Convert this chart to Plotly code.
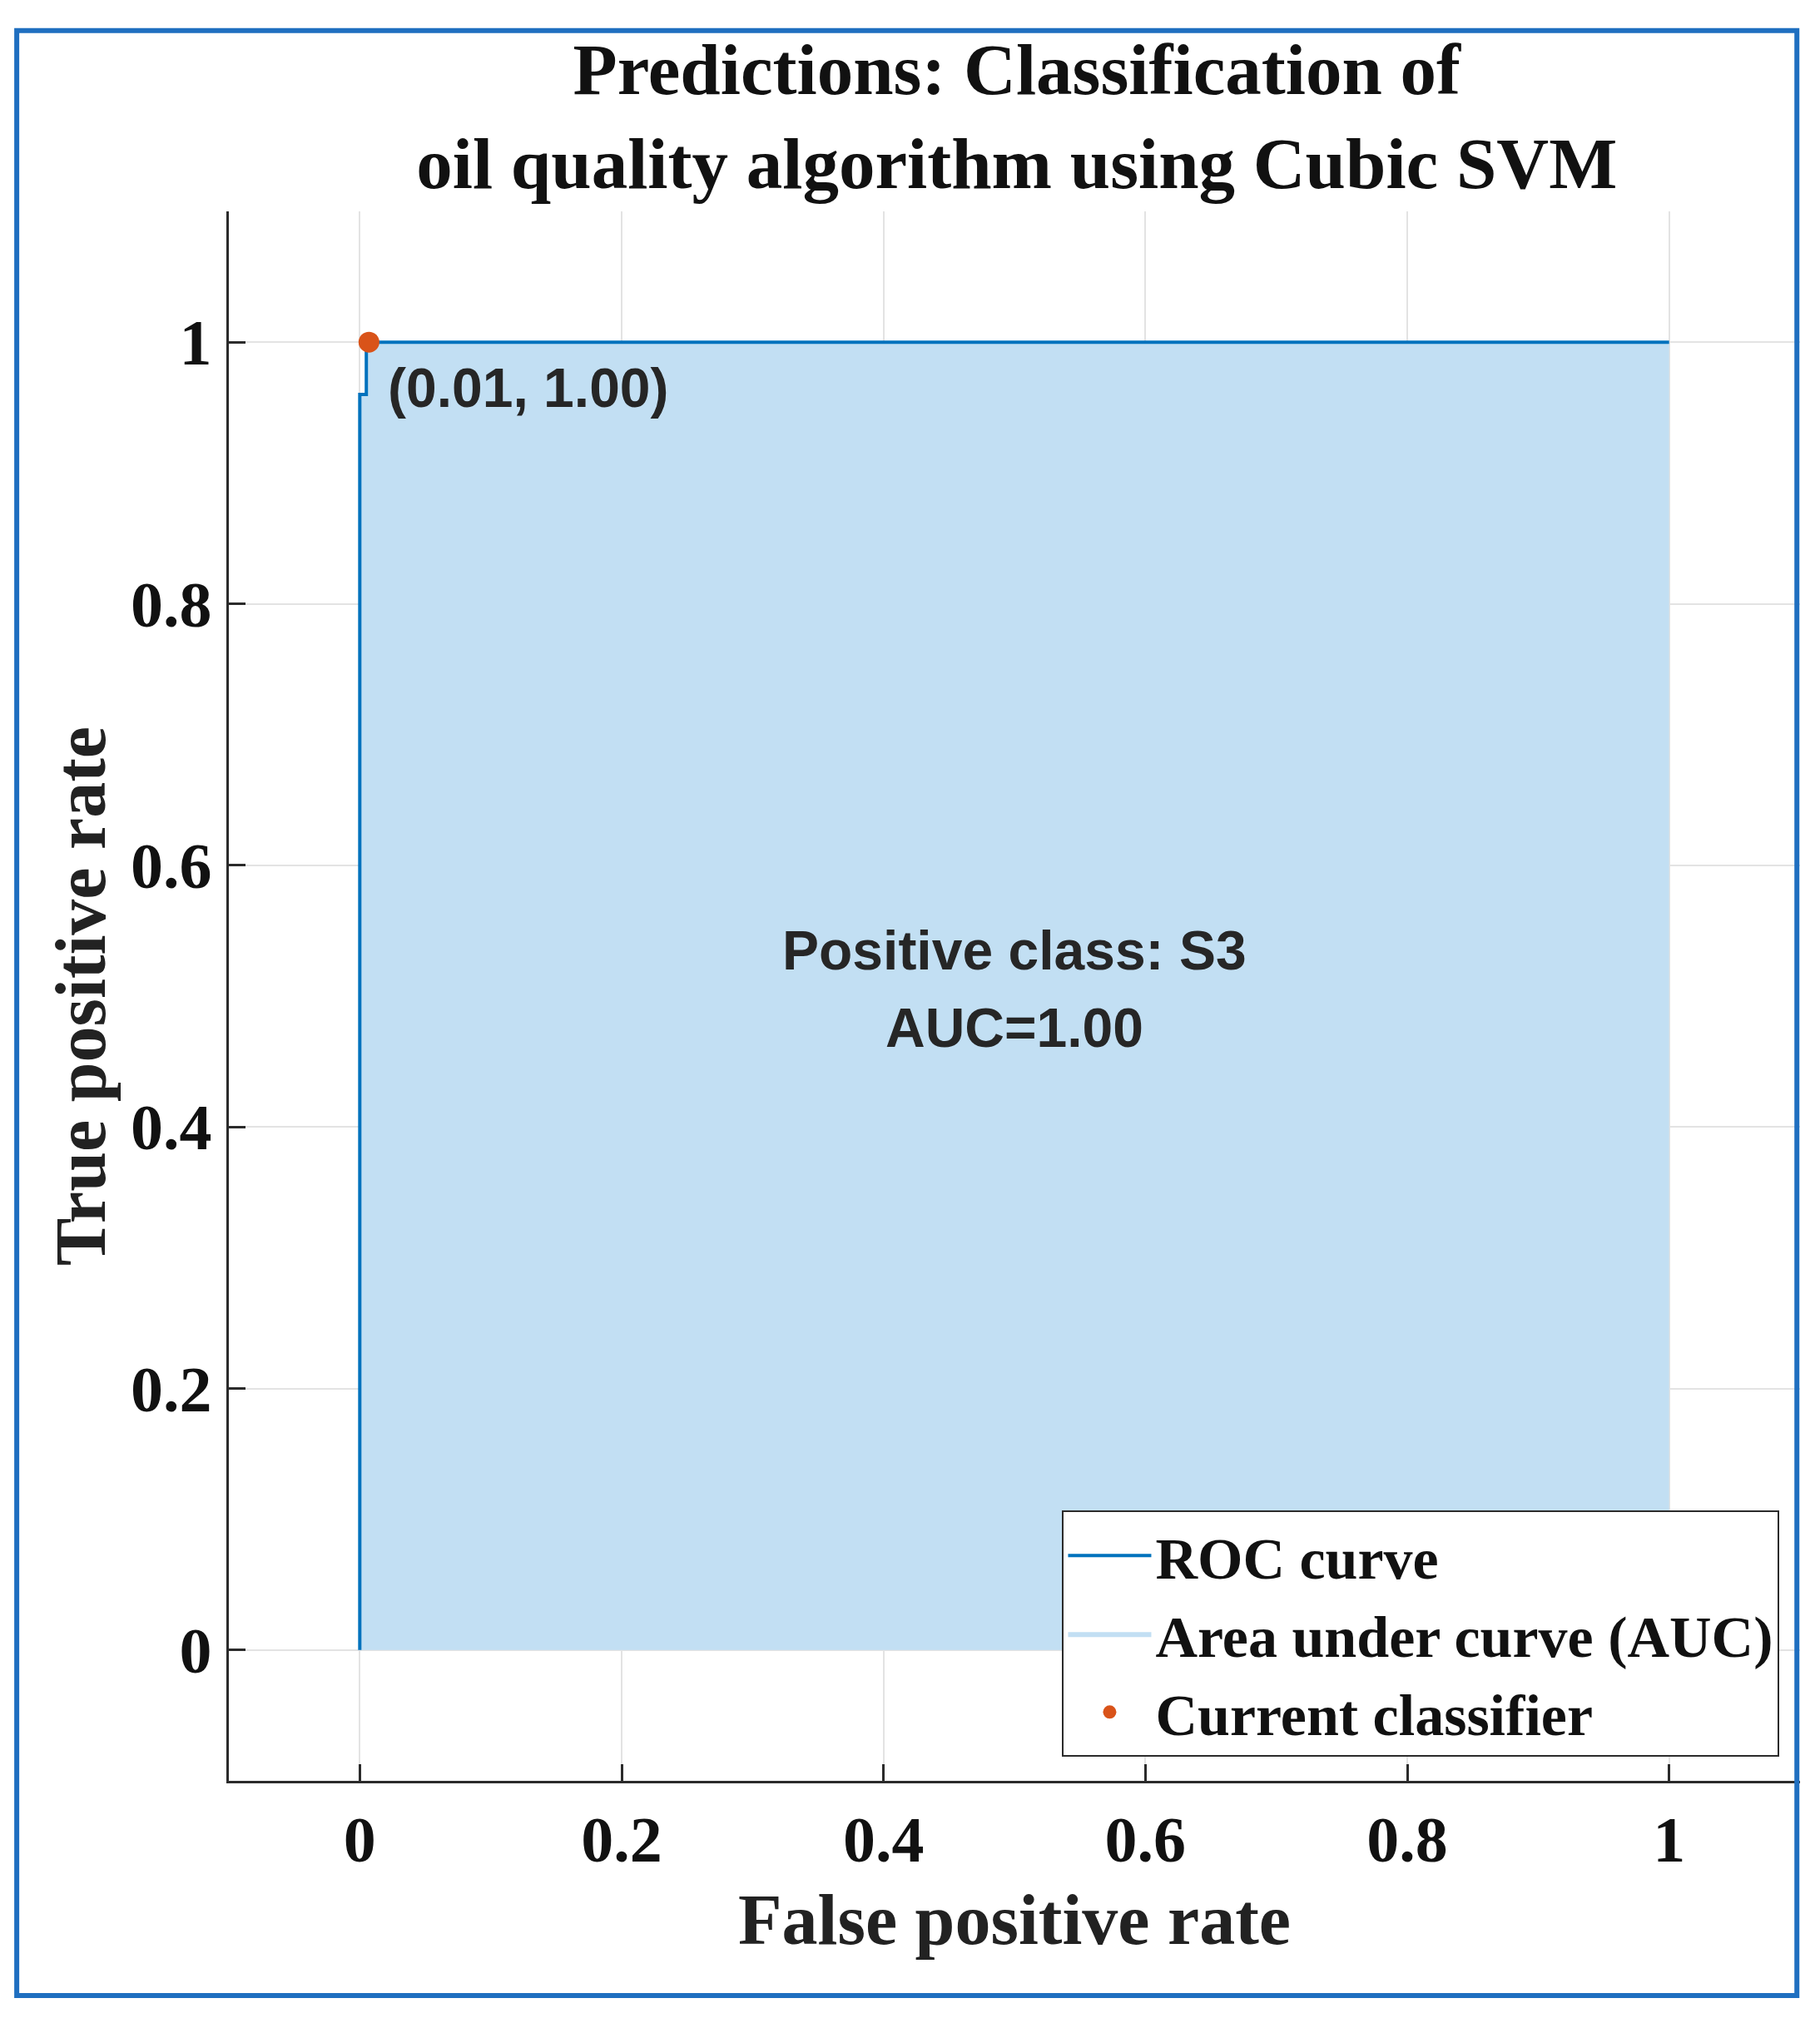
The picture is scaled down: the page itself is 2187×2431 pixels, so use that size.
#
# ROC curve for the Cubic SVM oil quality classifier (positive class S3)
#

import plotly.graph_objects as go

# ROC curve points
fpr = [0.0, 0.0, 0.005, 0.005, 1.0]
tpr = [0.0, 0.96, 0.96, 1.0, 1.0]

# current classifier operating point
cur_fpr = [0.007]
cur_tpr = [1.0]

tick_vals = [0, 0.2, 0.4, 0.6, 0.8, 1]
tick_text = ["<b>0</b>", "<b>0.2</b>", "<b>0.4</b>", "<b>0.6</b>", "<b>0.8</b>", "<b>1</b>"]

serif = "Liberation Serif, Times New Roman, serif"
sans = "Liberation Sans, Arial, sans-serif"

fig = go.Figure()

fig.add_trace(go.Scatter(
    x=fpr, y=tpr, name="<b>ROC curve</b>", mode="lines",
    line=dict(width=4, color="#0072BD")))
fig.add_trace(go.Scatter(
    x=fpr, y=tpr, name="<b>Area under curve (AUC)</b>", mode="lines",
    fill="tozeroy", fillcolor="#c2dff3", line=dict(width=0, color="#c2dff3")))
fig.add_trace(go.Scatter(
    x=cur_fpr, y=cur_tpr, name="<b>Current classifier</b>", mode="markers",
    marker=dict(size=25, color="#D95319")))

# draw the fill first so the curve sits on top, keep legend order
fig.data = (fig.data[1], fig.data[0], fig.data[2])
fig.data[0].legendrank = 2
fig.data[1].legendrank = 1
fig.data[2].legendrank = 3

fig.add_annotation(x=0.02, y=0.965, text="<b>(0.01, 1.00)</b>", showarrow=False,
                   xanchor="left", yanchor="middle",
                   font=dict(family=sans, size=66, color="#262626"))
fig.add_annotation(x=0.5, y=0.535, text="<b>Positive class: S3</b>", showarrow=False,
                   xanchor="center", yanchor="middle",
                   font=dict(family=sans, size=66, color="#262626"))
fig.add_annotation(x=0.5, y=0.476, text="<b>AUC=1.00</b>", showarrow=False,
                   xanchor="center", yanchor="middle",
                   font=dict(family=sans, size=66, color="#262626"))

axis_common = dict(
    range=[-0.1, 1.1], tickvals=tick_vals, ticktext=tick_text,
    showgrid=True, gridcolor="#e3e3e3", gridwidth=2, zeroline=False,
    showline=True, linecolor="#2b2b2b", linewidth=3, mirror=False,
    ticks="inside", ticklen=20, tickwidth=3, tickcolor="#2b2b2b",
    tickfont=dict(family=serif, size=78, color="#111111"),
)

fig.update_layout(
    width=2187, height=2431,
    margin=dict(l=267, r=32, t=246, b=299),
    paper_bgcolor="white", plot_bgcolor="white",
    title=dict(text="<b>Predictions: Classification of<br>oil quality algorithm using Cubic SVM</b>",
               x=0.555, xanchor="center", y=0.957, yanchor="middle",
               font=dict(family=serif, size=87, color="#111111")),
    xaxis=dict(axis_common, title=dict(text="<b>False positive rate</b>", standoff=24,
                                       font=dict(family=serif, size=86, color="#222222"))),
    yaxis=dict(axis_common, title=dict(text="<b>True positive rate</b>", standoff=2,
                                       font=dict(family=serif, size=86, color="#222222"))),
    legend=dict(x=0.987, y=0.0152, xanchor="right", yanchor="bottom",
                bgcolor="white", bordercolor="#2b2b2b", borderwidth=2,
                itemwidth=100, tracegroupgap=0,
                font=dict(family=serif, size=70, color="#111111")),
    showlegend=True,
)
fig.update_xaxes(ticklabelstandoff=0)
fig.update_yaxes(ticklabelstandoff=2)

# blue frame around the whole figure
fig.add_shape(type="rect", xref="paper", yref="paper",
              x0=-0.135, x1=0.998, y0=-0.1368, y1=1.1152,
              line=dict(color="#1f6fc0", width=6), fillcolor="rgba(0,0,0,0)")

fig.write_html("out.html")
